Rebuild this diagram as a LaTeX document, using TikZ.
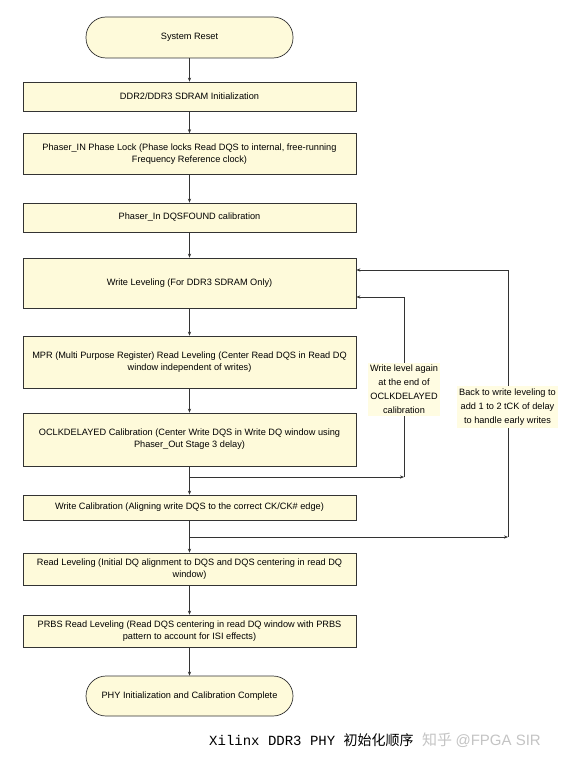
\documentclass[tikz,border=0pt]{standalone}
\usepackage{fontspec}
\setmainfont{Liberation Sans}
\newfontfamily\cjk{Noto Sans CJK SC}
\newfontfamily\monof{Liberation Mono}
\usetikzlibrary{arrows.meta,calc}
\definecolor{boxfill}{HTML}{FEFADA}
\definecolor{lblfill}{HTML}{FFFCE2}
\definecolor{linecol}{HTML}{333333}
\definecolor{wmark}{HTML}{C4C4C4}
\tikzset{
  stepbox/.style={draw=linecol, fill=boxfill, line width=0.7pt, minimum width=333pt,
    align=center, inner sep=0pt, font=\fontsize{9.2}{12}\selectfont},
  termbox/.style={stepbox, minimum width=207pt, rounded corners=20pt},
  lbl/.style={fill=lblfill, align=center, inner sep=2.5pt, font=\fontsize{9.2}{14}\selectfont},
  conn/.style={draw=linecol, line width=0.6pt},
  arr/.style={conn, -{Stealth[length=4pt,width=3.2pt]}},
}
\begin{document}
\begin{tikzpicture}[x=1pt,y=-1pt]
\useasboundingbox (0,0) rectangle (562,757);
\fill[white] (0,0) rectangle (562,757);

\node[termbox, minimum height=41pt] (reset) at (189.5,37.5) {System Reset};
\node[stepbox, minimum height=29pt] (ddr) at (189.5,96.5) {DDR2/DDR3 SDRAM Initialization};
\node[stepbox, minimum height=41pt] (phlock) at (189.5,154) {Phaser\_IN Phase Lock (Phase locks Read DQS to internal, free-running\\Frequency Reference clock)};
\node[stepbox, minimum height=29pt] (dqsf) at (189.5,217.5) {Phaser\_In DQSFOUND calibration};
\node[stepbox, minimum height=50pt] (wl) at (189.5,283) {Write Leveling (For DDR3 SDRAM Only)};
\node[stepbox, minimum height=52pt] (mpr) at (189.5,362) {MPR (Multi Purpose Register) Read Leveling (Center Read DQS in Read DQ\\window independent of writes)};
\node[stepbox, minimum height=53pt] (oclk) at (189.5,439.5) {OCLKDELAYED Calibration (Center Write DQS in Write DQ window using\\Phaser\_Out Stage 3 delay)};
\node[stepbox, minimum height=25pt] (wcal) at (189.5,507.5) {Write Calibration (Aligning write DQS to the correct CK/CK\# edge)};
\node[stepbox, minimum height=32pt] (rl) at (189.5,569) {Read Leveling (Initial DQ alignment to DQS and DQS centering in read DQ\\window)};
\node[stepbox, minimum height=32pt] (prbs) at (189.5,631) {PRBS Read Leveling (Read DQS centering in read DQ window with PRBS\\pattern to account for ISI effects)};
\node[termbox, minimum height=40pt] (done) at (189.5,696) {PHY Initialization and Calibration Complete};

\coordinate (j1) at (189.5,477);
\coordinate (c1) at (404,477);
\coordinate (t1) at (404,297);
\coordinate (j2) at (189.5,537);
\coordinate (c2) at (508,537);
\coordinate (t2) at (508,270);

\draw[arr] (reset) -- (ddr);
\draw[arr] (ddr) -- (phlock);
\draw[arr] (phlock) -- (dqsf);
\draw[arr] (dqsf) -- (wl);
\draw[arr] (wl) -- (mpr);
\draw[arr] (mpr) -- (oclk);
\draw[arr] (oclk) -- (wcal);
\draw[arr] (wcal) -- (rl);
\draw[arr] (rl) -- (prbs);
\draw[arr] (prbs) -- (done);

\draw[arr] (j1) -- (c1);
\draw[arr] (c1) -- (t1) -- (wl.east |- t1);
\draw[arr] (j2) -- (c2);
\draw[arr] (c2) -- (t2) -- (wl.east |- t2);

\node[lbl] (lbl1) at (404,389.5) {Write level again\\at the end of\\OCLKDELAYED\\calibration};
\node[lbl] (lbl2) at (507.5,407) {Back to write leveling to\\add 1 to 2 tCK of delay\\to handle early writes};

\node[anchor=west, inner sep=0pt, font=\fontsize{14}{16}\selectfont] (cap) at (209,740) {\monof Xilinx DDR3 PHY \cjk 初始化顺序};
\node[anchor=west, inner sep=0pt, text=wmark, font=\fontsize{15}{17}\selectfont] (wm) at (422,740) {\cjk 知乎 \rmfamily @FPGA SIR};
\end{tikzpicture}
\end{document}
